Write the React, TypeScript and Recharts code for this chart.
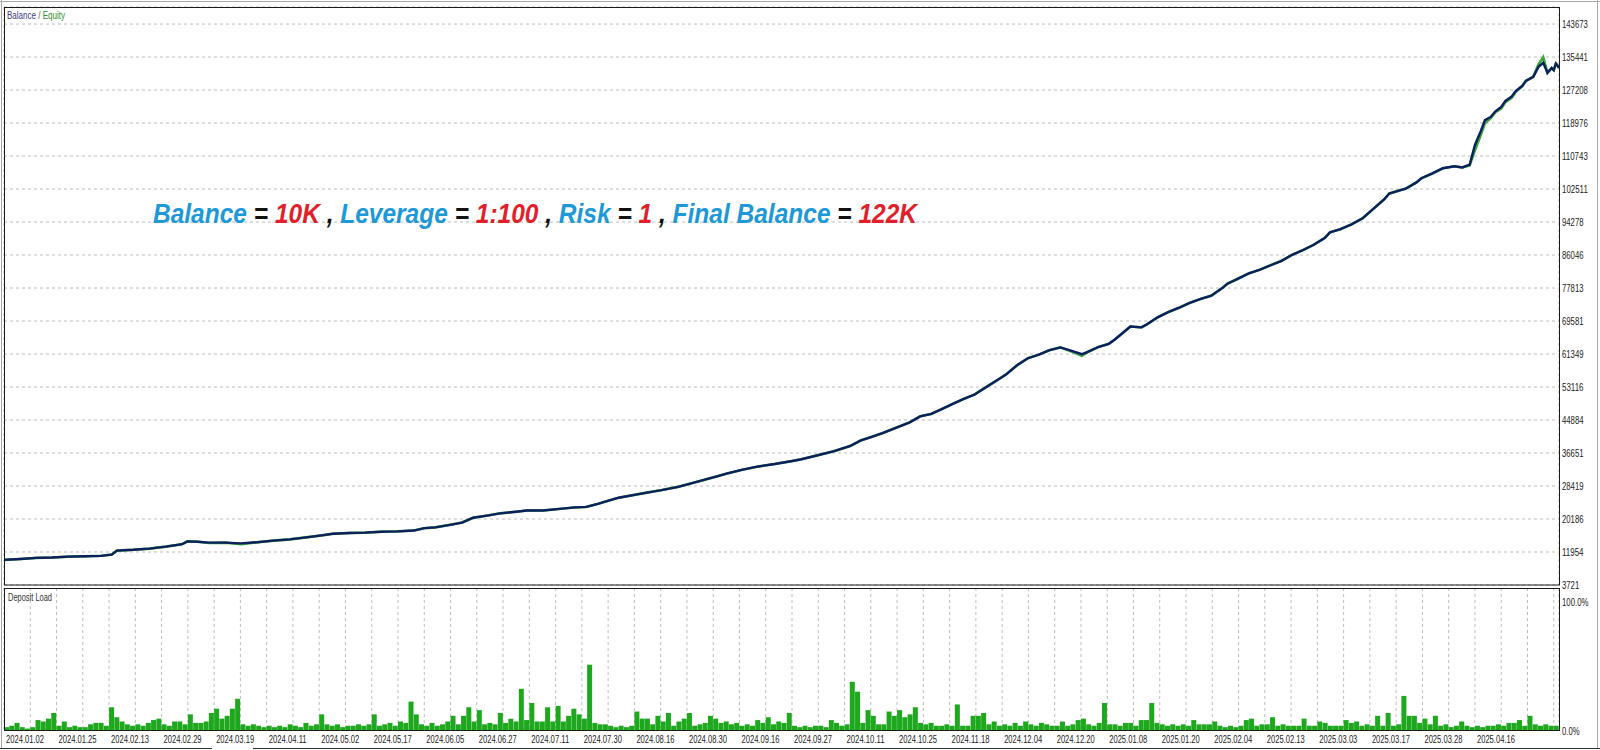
import { Bar, BarChart, CartesianGrid, Line, LineChart, XAxis, YAxis } from "recharts"

// tick labels
const dateLabels = [
  "2024.01.02", "2024.01.25", "2024.02.13", "2024.02.29", "2024.03.19", "2024.04.11",
  "2024.05.02", "2024.05.17", "2024.06.05", "2024.06.27", "2024.07.11", "2024.07.30",
  "2024.08.16", "2024.08.30", "2024.09.16", "2024.09.27", "2024.10.11", "2024.10.25",
  "2024.11.18", "2024.12.04", "2024.12.20", "2025.01.08", "2025.01.20", "2025.02.04",
  "2025.02.13", "2025.03.03", "2025.03.17", "2025.03.28", "2025.04.16",
]
const balanceTicks = [
  3721, 11954, 20186, 28419, 36651, 44884, 53116, 61349, 69581,
  77813, 86046, 94278, 102511, 110743, 118976, 127208, 135441, 143673,
]
const loadTicks = [0, 100]

// x is in bar slots (one deposit load bar per slot, label every 10 slots)
const balanceX = [
  0, 3.1, 6.2, 9.2, 12.3, 15.4, 18.5, 20.5, 21.5, 24.6,
  27.7, 30.8, 33.9, 34.9, 36.9, 39, 42.1, 45.1, 48.2, 51.3,
  54.4, 57.5, 60.5, 62.6, 65.7, 68.7, 71.8, 74.9, 78, 80,
  82.1, 85.2, 87.2, 89.3, 92.3, 94.4, 97.5, 99.5, 102.6, 105.7,
  108.8, 110.8, 112.9, 114.9, 117, 120, 122.1, 125.2, 128.3, 130.3,
  133.4, 135.4, 137.5, 140.6, 143.6, 146.7, 149.8, 151.8, 154.9, 158,
  161.1, 163.1, 165.2, 167.2, 169.3, 172.4, 174.4, 176.5, 178.5, 180.6,
  182.6, 184.7, 186.7, 188.8, 190.8, 192.9, 194.9, 197, 199, 201.1,
  203.1, 205.2, 206.2, 208.3, 210.3, 211.4, 213.4, 214.4, 216.5, 217.5,
  219.6, 221.6, 223.7, 225.7, 227.8, 229.8, 231.9, 232.9, 235, 237,
  239.1, 241.1, 243.2, 245.2, 247.3, 249.3, 251.4, 252.4, 254.4, 256.5,
  258.6, 260.6, 262.7, 263.7, 265.7, 266.8, 268.8, 269.8, 271.9, 273.9,
  276.1, 277.6, 279, 280, 281, 281.9, 283, 283.9, 285, 285.8,
  287, 287.8, 289, 289.7, 291.1, 292.1, 293, 293.8, 294.6, 295,
  295.4, 295.8, 296,
]
const balance = [
  9980, 10200, 10500, 10600, 10800, 10900, 11000, 11300, 12300, 12500,
  12800, 13300, 13900, 14600, 14500, 14300, 14300, 14100, 14400, 14800,
  15100, 15600, 16100, 16500, 16700, 16800, 17000, 17100, 17300, 17900,
  18100, 18800, 19300, 20500, 21100, 21600, 22000, 22300, 22300, 22700,
  23100, 23200, 23900, 24700, 25500, 26200, 26700, 27400, 28200, 28900,
  30000, 30700, 31500, 32500, 33300, 33900, 34600, 35100, 36100, 37100,
  38400, 39800, 40700, 41600, 42700, 44300, 45800, 46400, 47600, 48900,
  50100, 51200, 52900, 54600, 56300, 58600, 60300, 61200, 62300, 63000,
  62200, 61300, 61800, 63100, 63900, 64900, 67100, 68200, 68000, 68700,
  70500, 71800, 72900, 74100, 75100, 75900, 77800, 78900, 80200, 81500,
  82400, 83500, 84600, 86100, 87300, 88600, 90300, 91700, 92500, 93700,
  95200, 97500, 99900, 101400, 102200, 102600, 104100, 105200, 106400, 107700,
  108200, 107900, 108600, 113500, 116600, 119700, 120500, 121900, 123000, 124500,
  125600, 127000, 128200, 129500, 130500, 133000, 134000, 131500, 132700, 132200,
  133800, 133200, 132700,
]
const equity = [
  9980, 10200, 10500, 10600, 10800, 10900, 11000, 11300, 12300, 12500,
  12800, 13300, 13900, 14600, 14500, 14200, 14300, 13900, 14400, 14800,
  15100, 15600, 16100, 16500, 16700, 16800, 17000, 17100, 17300, 17900,
  18100, 18800, 19300, 20500, 21100, 21600, 22000, 22300, 22300, 22700,
  23100, 23200, 23900, 24700, 25500, 26200, 26700, 27400, 28200, 28900,
  30000, 30700, 31500, 32500, 33300, 33900, 34600, 35100, 36100, 37100,
  38400, 39800, 40700, 41600, 42700, 44300, 45800, 46400, 47600, 48900,
  50100, 51200, 52900, 54600, 56300, 58600, 60300, 61200, 62300, 63000,
  62000, 60900, 61800, 63100, 63900, 64900, 67100, 68200, 68000, 68700,
  70500, 71800, 72900, 74100, 75100, 75900, 77800, 78900, 80200, 81500,
  82400, 83500, 84600, 86100, 87300, 88600, 90300, 91700, 92500, 93700,
  95200, 97500, 99900, 101400, 102200, 102600, 104100, 105200, 106400, 107700,
  108200, 107900, 108400, 112200, 115600, 118900, 120200, 121700, 122600, 124200,
  125300, 126800, 128200, 129500, 130500, 133600, 135400, 131500, 132700, 132200,
  133800, 133200, 132700,
]

// deposit load in %, one value per slot
const depositLoad = [
  2, 3, 5, 2, 1, 2, 7, 6, 8, 12,
  3, 6, 2, 3, 2, 2, 4, 5, 5, 3,
  16, 9, 6, 4, 3, 4, 3, 5, 7, 8,
  4, 3, 6, 6, 4, 11, 5, 5, 6, 12,
  15, 8, 10, 15, 22, 4, 3, 4, 3, 2,
  3, 2, 3, 2, 4, 3, 2, 5, 3, 4,
  11, 4, 3, 4, 2, 3, 3, 4, 3, 4,
  11, 3, 4, 5, 3, 6, 5, 20, 11, 4,
  3, 5, 3, 4, 6, 10, 4, 10, 16, 6,
  14, 4, 5, 4, 12, 5, 8, 6, 29, 7,
  19, 6, 6, 16, 6, 17, 6, 10, 15, 11,
  8, 46, 5, 4, 4, 3, 2, 3, 2, 3,
  13, 8, 8, 4, 10, 6, 12, 3, 6, 8,
  12, 3, 4, 5, 10, 8, 5, 6, 4, 5,
  3, 4, 3, 7, 5, 9, 4, 6, 5, 12,
  3, 2, 3, 2, 3, 3, 2, 7, 5, 3,
  4, 34, 27, 5, 14, 10, 4, 4, 13, 10,
  14, 9, 11, 16, 5, 4, 5, 3, 3, 4,
  3, 18, 3, 3, 10, 10, 12, 4, 6, 3,
  4, 3, 5, 3, 6, 4, 3, 5, 4, 3,
  3, 6, 3, 4, 7, 8, 4, 3, 5, 19,
  4, 4, 3, 5, 5, 3, 7, 7, 19, 5,
  4, 3, 4, 3, 4, 3, 7, 4, 4, 4,
  6, 3, 2, 3, 2, 3, 7, 8, 3, 4,
  4, 9, 3, 4, 3, 3, 3, 8, 3, 3,
  6, 5, 3, 3, 3, 7, 5, 6, 3, 4,
  3, 10, 3, 12, 3, 4, 24, 10, 10, 5,
  8, 4, 10, 3, 4, 2, 3, 6, 3, 2,
  3, 2, 3, 3, 4, 3, 5, 5, 7, 3,
  10, 4, 3, 4, 3, 3,
]

const SLOTS = depositLoad.length
const gridTicks = Array.from({ length: 60 }, (_, i) => i * 5)

const FONT = "'Liberation Sans', Arial, sans-serif"
const GRID = "#bdbdbd"

const lineData = balanceX.map((x, i) => ({ x, balance: balance[i], equity: equity[i] }))
const barData = depositLoad.map((load, i) => ({ x: i + 0.5, load }))

const PriceTick = ({ y, payload }: any) => {
  const s = String(payload.value)
  return (
    <text x={1562} y={y + 4} fontSize={10.5} fill="#222" fontFamily={FONT}
      textLength={s.length * 4.3} lengthAdjust="spacingAndGlyphs">
      {s}
    </text>
  )
}

const LoadTick = ({ y, payload }: any) => {
  const s = payload.value === 100 ? "100.0%" : "0.0%"
  const dy = payload.value === 100 ? 11 : 5
  return (
    <text x={1562} y={y + dy} fontSize={10.5} fill="#222" fontFamily={FONT}
      textLength={s.length * 4.4} lengthAdjust="spacingAndGlyphs">
      {s}
    </text>
  )
}

const DateTick = ({ x, payload }: any) => {
  const v = payload.value
  if (v % 10 !== 0) return <g />
  const label = dateLabels[v / 10]
  if (!label) return <g />
  return (
    <text x={x + 2} y={157} fontSize={10.5} fill="#222" fontFamily={FONT}
      textLength={38} lengthAdjust="spacingAndGlyphs">
      {label}
    </text>
  )
}

const BLUE = "#1d98d8"
const RED = "#e0202a"

export default function App() {
  return (
    <div style={{ position: "absolute", left: 0, top: 0, width: 1600, height: 750, background: "#fff", overflow: "hidden" }}>
      <div style={{ position: "absolute", left: 0, top: 0 }}>
        <LineChart width={1600} height={600} data={lineData} margin={{ top: 7, right: 0, bottom: 15, left: 4 }}>
          <CartesianGrid stroke={GRID} strokeDasharray="3 3" />
          <XAxis dataKey="x" type="number" domain={[0, SLOTS]} ticks={gridTicks} allowDataOverflow
            height={0} tick={false} tickLine={false} axisLine={false} />
          <YAxis orientation="right" width={41} type="number" domain={[3721, 147927]} ticks={balanceTicks}
            allowDataOverflow tick={PriceTick} tickLine={false} axisLine={false} interval={0} />
          <Line dataKey="equity" type="linear" stroke="#37a83a" strokeWidth={2.6} dot={false} isAnimationActive={false} />
          <Line dataKey="balance" type="linear" stroke="#0d1f5e" strokeWidth={2.4} dot={false} isAnimationActive={false} />
        </LineChart>
      </div>
      <div style={{ position: "absolute", left: 0, top: 586 }}>
        <BarChart width={1600} height={164} data={barData} margin={{ top: 2, right: 0, bottom: 0, left: 4 }}>
          <CartesianGrid stroke={GRID} strokeDasharray="3 3" horizontal={false} />
          <XAxis dataKey="x" type="number" domain={[0, SLOTS]} ticks={gridTicks} allowDataOverflow
            height={20} tick={DateTick} tickLine={false} axisLine={false} interval={0} />
          <YAxis orientation="right" width={41} type="number" domain={[0, 100]} ticks={loadTicks}
            tick={LoadTick} tickLine={false} axisLine={false} />
          <Bar dataKey="load" fill="#1ea81e" barSize={5} isAnimationActive={false} />
        </BarChart>
      </div>
      <svg width={1600} height={750} style={{ position: "absolute", left: 0, top: 0, pointerEvents: "none" }}>
        <line x1={0} y1={1.5} x2={1600} y2={1.5} stroke="#a8a8a8" />
        <line x1={1.5} y1={0} x2={1.5} y2={748} stroke="#a8a8a8" />
        <line x1={1597.5} y1={0} x2={1597.5} y2={748} stroke="#a8a8a8" />
        <rect x={4.5} y={7.5} width={1555} height={577.5} fill="none" stroke="#1a1a1a" />
        <rect x={4.5} y={588.5} width={1555} height={142} fill="none" stroke="#1a1a1a" />
        <line x1={0} y1={748.5} x2={212} y2={748.5} stroke="#333" />
        <line x1={253} y1={748.5} x2={1600} y2={748.5} stroke="#333" />
        <text x={7} y={19} fontSize={10} fontFamily={FONT} textLength={58} lengthAdjust="spacingAndGlyphs">
          <tspan fill="#3b3b7a">Balance</tspan>
          <tspan fill="#666"> / </tspan>
          <tspan fill="#2f8f2f">Equity</tspan>
        </text>
        <text x={8} y={601} fontSize={10} fill="#333" fontFamily={FONT} textLength={44} lengthAdjust="spacingAndGlyphs">
          Deposit Load
        </text>
        <text x={153} y={223} fontSize={28} fontWeight="bold" fontStyle="italic" fontFamily={FONT}
          textLength={764} lengthAdjust="spacingAndGlyphs">
          <tspan fill={BLUE}>Balance</tspan>
          <tspan fill="#111"> = </tspan>
          <tspan fill={RED}>10K</tspan>
          <tspan fill="#111"> , </tspan>
          <tspan fill={BLUE}>Leverage</tspan>
          <tspan fill="#111"> = </tspan>
          <tspan fill={RED}>1:100</tspan>
          <tspan fill="#111"> , </tspan>
          <tspan fill={BLUE}>Risk</tspan>
          <tspan fill="#111"> = </tspan>
          <tspan fill={RED}>1</tspan>
          <tspan fill="#111"> , </tspan>
          <tspan fill={BLUE}>Final Balance</tspan>
          <tspan fill="#111"> = </tspan>
          <tspan fill={RED}>122K</tspan>
        </text>
      </svg>
    </div>
  )
}
